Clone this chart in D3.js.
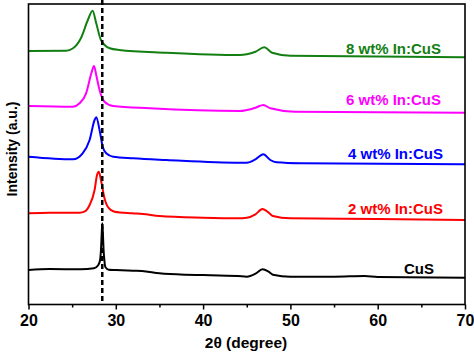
<!DOCTYPE html>
<html>
<head>
<meta charset="utf-8">
<script src="https://cdn.jsdelivr.net/npm/d3@7/dist/d3.min.js"></script>
<style>
  html, body { margin: 0; padding: 0; background: #fff; }
  svg { display: block; }
  text { font-family: Arial, "Liberation Sans", sans-serif; font-weight: bold; }
</style>
</head>
<body>
<svg id="chart" width="474" height="352"></svg>
<script>
// ---- data (2θ in degrees, intensity in arbitrary units, stacked) ----
const seriesNames = ["CuS", "2 wt% In:CuS", "4 wt% In:CuS", "6 wt% In:CuS", "8 wt% In:CuS"];
const seriesColors = ["#000000", "#ff0000", "#0000ff", "#ff00ff", "#137f13"];

const cus = [[20,35],[22.4,36],[26,35.7],[27.5,36.7],[28.0,40],[28.2,45],[28.3,55],[28.38,70],[28.45,81.7],[28.52,72],[28.6,55],[28.7,44],[28.8,38],[29.2,35.3],[30,35],[32,34.3],[33,34],[35,31.7],[38,30.3],[40,30],[44,29],[45,28.3],[46,31.3],[46.8,35.7],[47.5,33.3],[48,30.3],[50,28.3],[55,28.3],[58.5,29],[60,28],[70,27.3]];
const in2 = [[20,91.7],[22.4,92.3],[25.85,92.3],[26.4,93.3],[27.0,100],[27.57,115],[27.85,130],[28.06,133.3],[28.3,125],[28.7,107],[29.1,98],[29.86,93.3],[31.9,91.7],[33.1,91],[35,89],[40,87.3],[44,86.7],[45,87.3],[46,90.7],[46.8,96],[47.6,91.7],[48,89],[50,86.7],[60,86],[70,85]];
const in4 = [[20,148.3],[25.1,145.7],[26.2,151.7],[27.0,165],[27.57,185],[27.76,187.7],[28.14,175],[28.5,158.3],[28.9,151.7],[29.7,148.3],[32,146.7],[35.8,145],[44.2,142.3],[45,142.3],[46,145.7],[46.9,150.7],[47.7,145],[48.4,142.7],[51.2,141.7],[70,140.7]];
const in6 = [[20,199],[25.1,198.3],[25.85,201.7],[26.6,211.7],[27.2,231.7],[27.5,239],[27.8,228.3],[28.14,215],[28.7,203.3],[29.7,199],[33.9,196.7],[44.2,194],[45,195],[46,197.3],[46.9,200],[47.7,196.7],[50.5,193.3],[70,192.3]];
const in8 = [[20,254],[24.3,254.3],[25.1,256.7],[26.0,266.7],[26.8,285],[27.34,294.3],[27.76,281.7],[28.3,265],[29.3,256.7],[30.4,255],[35.8,252.3],[44.2,250],[45,250.7],[46,253.3],[47,257.7],[47.9,252.3],[50,249.3],[70,247.7]];
const seriesData = [cus, in2, in4, in6, in8];
const labelVal = [36, 96, 151, 205, 256];
const labelXEnd = [434, 443, 443, 441, 441];

const xTicks = [20, 30, 40, 50, 60, 70];
const xMinorTicks = [25, 35, 45, 55, 65];
const refLine = 28.45;

// ---- layout ----
const svg = d3.select("#chart");
const L = 28.5, R = 465, T = 4, B = 304.5;
const x = d3.scaleLinear().domain([20, 70]).range([L, R]);
const y = d3.scaleLinear().domain([0, 301]).range([305, 4]);

const line = d3.line().x(d => x(d[0])).y(d => y(d[1])).curve(d3.curveMonotoneX);

const plot = svg.append("g");
seriesData.forEach((s, i) => {
  plot.append("path").datum(s)
    .attr("d", line)
    .attr("fill", "none")
    .attr("stroke", seriesColors[i])
    .attr("stroke-width", 2)
    .attr("stroke-linejoin", "round");
});

// reference dashed line
svg.append("line")
  .attr("x1", x(refLine)).attr("x2", x(refLine))
  .attr("y1", 0).attr("y2", B)
  .attr("stroke", "#000").attr("stroke-width", 2.5)
  .attr("stroke-dasharray", "5,3");

// frame
svg.append("rect").attr("x", L).attr("y", T).attr("width", R - L).attr("height", B - T)
  .attr("fill", "none").attr("stroke", "#000").attr("stroke-width", 1.6);

// bottom axis
const xAxis = d3.axisBottom(x).tickValues(xTicks).tickSize(5).tickFormat(d3.format("d"));
const ax = svg.append("g").attr("transform", `translate(0,${B})`).call(xAxis);
ax.select(".domain").remove();
ax.selectAll(".tick line").attr("stroke-width", 1.5);
ax.selectAll(".tick text").attr("font-size", 16).attr("font-weight", "bold")
  .attr("font-family", "Arial, 'Liberation Sans', sans-serif").attr("fill", "#000").attr("dy", "0.85em");
const axm = svg.append("g").attr("transform", `translate(0,${B})`)
  .call(d3.axisBottom(x).tickValues(xMinorTicks).tickSize(3).tickFormat(""));
axm.select(".domain").remove();
axm.selectAll(".tick line").attr("stroke-width", 1.5);

// axis titles
svg.append("text").attr("x", 246).attr("y", 348).attr("text-anchor", "middle")
  .attr("font-size", 15.5).attr("fill", "#000").text("2θ (degree)");
svg.append("text").attr("transform", "translate(17,149) rotate(-90)").attr("text-anchor", "middle")
  .attr("font-size", 14).attr("fill", "#000").text("Intensity (a.u.)");

// series labels
seriesNames.forEach((n, i) => {
  svg.append("text").attr("x", labelXEnd[i]).attr("y", y(labelVal[i]))
    .attr("text-anchor", "end").attr("dy", "0.36em")
    .attr("font-size", 15).attr("fill", seriesColors[i]).text(n);
});
</script>
</body>
</html>
